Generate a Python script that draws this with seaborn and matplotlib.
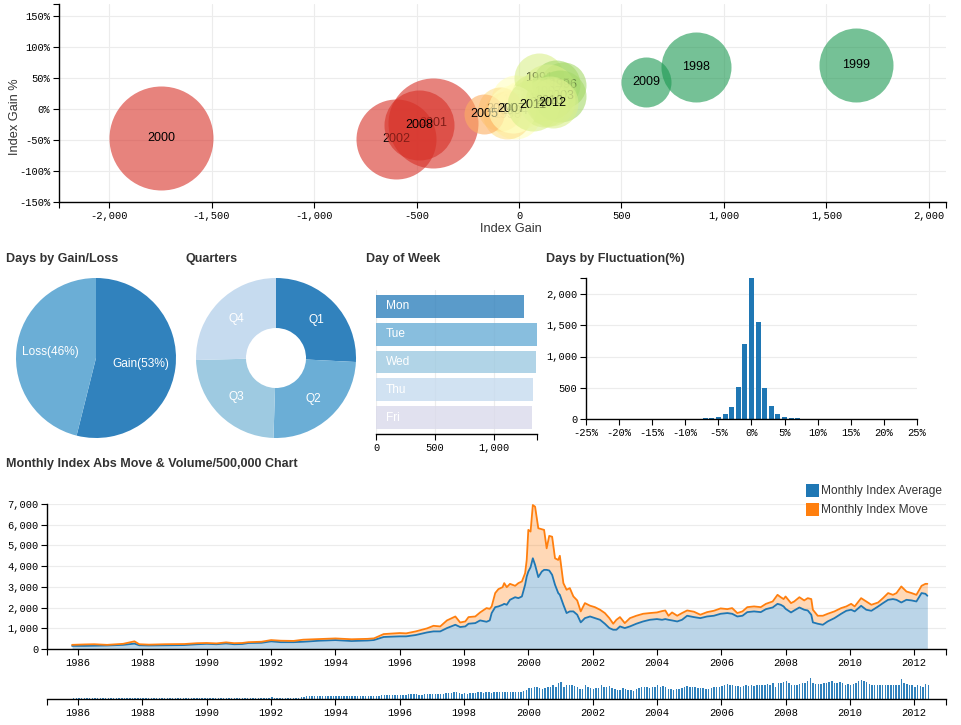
import numpy as np
import pandas as pd
import seaborn as sns
import matplotlib.pyplot as plt
from matplotlib.patches import Rectangle
from matplotlib.ticker import FuncFormatter

# yearly bubbles: absolute gain, gain %, fluctuation (bubble size)
years = list(range(1985, 2013))
year_gain = [-15, 20, -20, 45, 70, -60, 98, 90, 110, -25, 180, 216, 140, 863, 1644,
             -1746, -418, -600, 200, -93, -170, 120, -36, -488, 620, 150, 68, 164]
year_gain_pct = [15, 8, -6, 14, 20, -10, 50, 15, 16, -3, 40, 39, 28, 68, 71,
                 -47, -22, -48, 21, 0, -8, 10, 0, -26, 43, 12, 6, 10]
year_fluct = [50, 48, 52, 44, 44, 48, 50, 44, 44, 44, 48, 46, 56, 70, 74,
              104, 90, 80, 52, 44, 40, 48, 48, 70, 50, 50, 52, 50]

# pies
gain_loss = ['Gain', 'Loss']
gain_loss_days = [3646, 3118]
quarters = ['Q1', 'Q2', 'Q3', 'Q4']
quarter_days = [1745, 1671, 1630, 1718]

# row chart
weekdays = ['Mon', 'Tue', 'Wed', 'Thu', 'Fri']
weekday_days = [1263, 1370, 1365, 1339, 1330]

# fluctuation histogram
fluct_pct = [-7, -6, -5, -4, -3, -2, -1, 0, 1, 2, 3, 4, 5, 6, 7]
fluct_days = [16, 21, 37, 85, 192, 512, 1200, 2251, 1552, 496, 213, 80, 32, 16, 16]

# monthly index average / move
month_pos = [1985.81, 1986.2, 1986.5, 1986.9, 1987.4, 1987.75, 1987.9, 1988.2, 1988.7, 1989.3,
             1989.7, 1990.0, 1990.3, 1990.6, 1990.85, 1991.1, 1991.3, 1991.7, 1992.0, 1992.3,
             1992.7, 1993.0, 1993.5, 1994.0, 1994.5, 1995.0, 1995.2, 1995.5, 1996.0, 1996.2,
             1996.5, 1996.85, 1997.05, 1997.26, 1997.47, 1997.73, 1997.88, 1998.04, 1998.14, 1998.35,
             1998.5, 1998.7, 1998.8, 1998.86, 1998.97, 1999.07, 1999.2, 1999.25, 1999.33, 1999.43,
             1999.59, 1999.69, 1999.8, 1999.9, 1999.95, 2000.0, 2000.07, 2000.14, 2000.21, 2000.31,
             2000.42, 2000.49, 2000.57, 2000.65, 2000.74, 2000.83, 2000.93, 2000.98, 2001.09, 2001.19,
             2001.29, 2001.4, 2001.52, 2001.63, 2001.76, 2001.92, 2002.07, 2002.23, 2002.38, 2002.52,
             2002.64, 2002.74, 2002.85, 2003.0, 2003.16, 2003.36, 2003.57, 2003.78, 2004.0, 2004.16,
             2004.26, 2004.36, 2004.47, 2004.63, 2004.78, 2004.94, 2005.15, 2005.35, 2005.56, 2005.77,
             2005.98, 2006.19, 2006.34, 2006.5, 2006.66, 2006.81, 2007.02, 2007.23, 2007.39, 2007.6,
             2007.75, 2007.85, 2007.94, 2008.0, 2008.17, 2008.27, 2008.43, 2008.58, 2008.69, 2008.8,
             2008.85, 2009.0, 2009.16, 2009.31, 2009.52, 2009.73, 2009.89, 2010.04, 2010.15, 2010.35,
             2010.51, 2010.67, 2010.88, 2011.03, 2011.19, 2011.34, 2011.45, 2011.6, 2011.76, 2011.92,
             2012.07, 2012.23, 2012.35, 2012.41]
index_avg = [150, 150, 160, 170, 200, 260, 180, 170, 180, 190,
             230, 250, 230, 270, 230, 240, 290, 300, 370, 330,
             330, 350, 400, 430, 385, 410, 433, 580, 610, 610,
             675, 800, 850, 850, 1010, 1170, 1060, 1090, 1220, 1250,
             1380, 1315, 1380, 1735, 2020, 2055, 2135, 2180, 2135, 2375,
             2500, 2455, 2535, 3100, 3500, 3740, 3950, 4380, 4060, 3470,
             3740, 3820, 3820, 3790, 3580, 3100, 2700, 2615, 2135, 1735,
             1815, 1815, 1655, 1285, 1490, 1570, 1490, 1410, 1220, 1010,
             930, 930, 1090, 1010, 1090, 1220, 1330, 1410, 1445, 1410,
             1445, 1410, 1380, 1330, 1410, 1605, 1540, 1490, 1570, 1605,
             1700, 1735, 1700, 1570, 1605, 1780, 1815, 1780, 1925, 2005,
             2180, 2135, 2055, 1940, 1765, 1860, 2005, 1895, 1860, 1655,
             1285, 1220, 1170, 1330, 1490, 1700, 1845, 1895, 1815, 2085,
             1895, 1845, 2055, 2215, 2375, 2410, 2375, 2245, 2375, 2345,
             2295, 2700, 2665, 2570]
index_move = [50, 70, 70, 30, 50, 110, 50, 40, 50, 50,
              50, 40, 40, 50, 50, 50, 40, 50, 60, 70,
              60, 100, 80, 80, 85, 80, 80, 140, 160, 145,
              175, 195, 270, 240, 370, 400, 220, 240, 320, 320,
              385, 660, 560, 320, 680, 835, 850, 1000, 850, 770,
              550, 725, 725, 560, 800, 2010, 1720, 2570, 2810, 2360,
              2040, 1930, 1040, 1670, 1840, 1280, 1600, 1885, 1045, 1125,
              1125, 725, 690, 530, 725, 520, 530, 485, 515, 480,
              290, 480, 450, 240, 400, 385, 370, 325, 320, 420,
              415, 195, 385, 275, 325, 255, 260, 165, 210, 240,
              260, 190, 275, 165, 210, 240, 240, 240, 255, 290,
              435, 365, 355, 595, 450, 435, 495, 450, 595, 755,
              610, 385, 435, 370, 325, 275, 210, 285, 240, 370,
              400, 290, 190, 240, 325, 205, 325, 775, 400, 355,
              320, 350, 480, 575]

# monthly volume / 500,000, Nov 1985 .. Jun 2012
volume = [
    3, 3,
    3, 3, 3, 3, 3, 3, 3, 3, 3, 3, 3, 3,
    3, 3, 3, 3, 3, 3, 3, 3, 3, 4, 3, 3,
    3, 3, 3, 3, 3, 3, 3, 3, 3, 3, 3, 3,
    3, 3, 3, 3, 3, 3, 3, 3, 3, 3, 3, 3,
    3, 3, 3, 3, 3, 3, 3, 3, 3, 3, 3, 3,
    3, 3, 3, 3, 3, 3, 3, 3, 3, 3, 3, 4,
    6, 4, 4, 4, 4, 4, 4, 4, 4, 4, 4, 5,
    7, 8, 8, 8, 8, 8, 8, 8, 8, 8, 8, 8,
    8, 8, 8, 8, 8, 8, 8, 8, 8, 8, 8, 8,
    8, 8, 8, 8, 10, 11, 11, 11, 11, 11, 11, 11,
    12, 11, 13, 14, 16, 14, 14, 13, 13, 14, 15, 15,
    16, 14, 15, 15, 15, 17, 17, 19, 20, 22, 18, 16,
    17, 16, 19, 19, 18, 20, 21, 18, 20, 22, 19, 20,
    20, 21, 21, 22, 22, 20, 20, 21, 22, 22, 25, 28,
    32, 33, 34, 35, 32, 30, 32, 34, 35, 42, 36, 48,
    50, 36, 42, 42, 40, 38, 34, 30, 30, 40, 36, 32,
    30, 33, 32, 42, 36, 34, 38, 33, 30, 28, 26, 33,
    30, 26, 28, 25, 30, 32, 34, 36, 35, 32, 36, 34,
    40, 35, 38, 34, 30, 30, 28, 30, 30, 32, 36, 38,
    35, 34, 36, 33, 32, 33, 31, 30, 32, 34, 34, 36,
    38, 40, 44, 40, 42, 38, 38, 36, 38, 40, 38, 40,
    38, 40, 42, 40, 40, 44, 42, 48, 36, 46, 48, 50,
    52, 46, 42, 42, 42, 44, 46, 48, 52, 61, 46, 44,
    45, 44, 46, 48, 50, 52, 48, 46, 50, 46, 42, 44,
    40, 44, 48, 52, 56, 52, 50, 44, 42, 42, 40, 40,
    40, 42, 40, 42, 40, 42, 40, 58, 46, 44, 42, 40,
    36, 40, 38, 36, 44, 40,
]

RDYLGN = ['#d73027', '#f46d43', '#fdae61', '#fee08b', '#ffffbf',
          '#d9ef8b', '#a6d96a', '#66bd63', '#1a9850']
BLUES = ['#3182bd', '#6baed6', '#9ecae1', '#c6dbef', '#dadaeb']
MONO = ['Liberation Mono', 'DejaVu Sans Mono']
GRID = '#ececec'

sns.set_theme(style='white')
plt.rcParams['font.family'] = ['Liberation Sans', 'DejaVu Sans']

W, H = 962, 725
fig = plt.figure(figsize=(W / 100, H / 100), dpi=100)


def px_axes(l, t, r, b):
    return fig.add_axes([l / W, 1 - b / H, (r - l) / W, (b - t) / H])


def d3_axis(ax, left=True):
    for s in ['top', 'right']:
        ax.spines[s].set_visible(False)
    ax.spines['left'].set_visible(left)
    for s in ['left', 'bottom']:
        ax.spines[s].set_color('black')
        ax.spines[s].set_linewidth(1)
    ax.tick_params(which='both', direction='out', length=4.3, width=0.8, color='black',
                   pad=2, labelsize=7.5, labelcolor='black', labelfontfamily=MONO,
                   left=left, bottom=True)
    ax.set_xlabel('')
    ax.set_ylabel('')


def end_ticks(ax, axis='x'):
    lo, hi = (ax.get_xlim() if axis == 'x' else ax.get_ylim())
    if axis == 'x':
        ax.set_xticks([lo, hi], minor=True)
    else:
        ax.set_yticks([lo, hi], minor=True)


comma = FuncFormatter(lambda v, p: f'{v:,.0f}')
pct = FuncFormatter(lambda v, p: f'{v:.0f}%')


def title(x, y, s):
    fig.text(x / W, 1 - y / H, s, va='center', ha='left', fontsize=9,
             fontweight='bold', color='#333333')


# ---- bubble chart
ax = px_axes(59, 4, 946, 202)
d3_axis(ax)
ax.set_xlim(-2244, 2083)
ax.set_ylim(-150, 169)
ax.set_xticks(np.arange(-2000, 2001, 500))
ax.set_yticks(np.arange(-150, 151, 50))
ax.xaxis.set_major_formatter(comma)
ax.yaxis.set_major_formatter(pct)
end_ticks(ax, 'x')
end_ticks(ax, 'y')
ax.grid(True, color=GRID, lw=0.8)
ax.set_axisbelow(True)
bins = np.clip(((np.array(year_gain) + 500) / 1000 * 9).astype(int), 0, 8)
for i, (yr, g, p, f) in enumerate(zip(years, year_gain, year_gain_pct, year_fluct)):
    r = f / 2
    ax.scatter([g], [p], s=(1.44 * r) ** 2, color=RDYLGN[bins[i]], alpha=0.6,
               linewidths=0, zorder=3 + 2 * i)
    ax.text(g, p, str(yr), ha='center', va='center', fontsize=9, color='black',
            zorder=4 + 2 * i)
ax.set_xlabel('Index Gain', fontsize=9.2, color='#333333')
ax.set_ylabel('Index Gain %', fontsize=9.2, color='#333333')
ax.xaxis.set_label_coords(0.51, -0.105)
ax.yaxis.set_label_coords(-0.043, 0.43)

# ---- gain / loss pie
title(6, 259, 'Days by Gain/Loss')
ax = px_axes(16, 278, 176, 438)
total = sum(gain_loss_days)
wedges, _ = ax.pie(gain_loss_days, colors=BLUES[:2], startangle=90, counterclock=False,
                   wedgeprops=dict(linewidth=0))
for w, name, v in zip(wedges, gain_loss, gain_loss_days):
    a = np.deg2rad((w.theta1 + w.theta2) / 2)
    ax.text(0.57 * np.cos(a), 0.57 * np.sin(a), f'{name}({int(v / total * 100)}%)',
            ha='center', va='center', color='white', fontsize=8.6)
ax.set_xlim(-1, 1)
ax.set_ylim(-1, 1)

# ---- quarters donut
title(186, 259, 'Quarters')
ax = px_axes(196, 278, 356, 438)
wedges, _ = ax.pie(quarter_days, colors=BLUES[:4], startangle=90, counterclock=False,
                   wedgeprops=dict(width=50 / 80, linewidth=0))
for w, name in zip(wedges, quarters):
    a = np.deg2rad((w.theta1 + w.theta2) / 2)
    ax.text(0.69 * np.cos(a), 0.69 * np.sin(a), name, ha='center', va='center',
            color='white', fontsize=8.6)
ax.set_xlim(-1, 1)
ax.set_ylim(-1, 1)

# ---- day of week row chart
title(366, 259, 'Day of Week')
ax = px_axes(376, 290, 537, 434)
sns.barplot(x=weekday_days, y=weekdays, hue=weekdays, palette=BLUES, legend=False,
            orient='h', width=0.82, alpha=0.8, saturation=1, linewidth=0, ax=ax)
d3_axis(ax, left=False)
ax.set_xlim(0, max(weekday_days))
ax.set_ylim(4.59, -0.59)
ax.set_xticks([0, 500, 1000])
ax.xaxis.set_major_formatter(comma)
end_ticks(ax, 'x')
ax.set_yticks([])
ax.grid(True, axis='x', color=GRID, lw=0.8)
ax.set_axisbelow(True)
for i, d in enumerate(weekdays):
    ax.annotate(d, (0, i), xytext=(7.2, 0), textcoords='offset points', ha='left',
                va='center', color='white', fontsize=8.6)

# ---- fluctuation histogram
title(546, 259, 'Days by Fluctuation(%)')
ax = px_axes(586, 278, 917, 419)
sns.histplot(x=fluct_pct, weights=fluct_days, discrete=True, shrink=0.76,
             color='#1f77b4', alpha=1, linewidth=0, ax=ax)
d3_axis(ax)
ax.set_xlim(-25, 25)
ax.set_ylim(0, 2256)
ax.set_xticks(np.arange(-25, 26, 5))
ax.set_yticks(np.arange(0, 2001, 500))
ax.xaxis.set_major_formatter(pct)
ax.yaxis.set_major_formatter(comma)
end_ticks(ax, 'x')
end_ticks(ax, 'y')
ax.grid(True, axis='y', color=GRID, lw=0.8)
ax.set_axisbelow(True)

# ---- monthly index area chart
title(6, 464, 'Monthly Index Abs Move & Volume/500,000 Chart')
ax = px_axes(47, 504, 946, 649)
avg = np.array(index_avg)
top = avg + np.array(index_move)
ax.fill_between(month_pos, 0, avg, color='#1f77b4', alpha=0.3, lw=0)
ax.fill_between(month_pos, avg, top, color='#ff7f0e', alpha=0.3, lw=0)
sns.lineplot(x=month_pos, y=avg, color='#1f77b4', lw=1.3, sort=False, estimator=None, ax=ax)
sns.lineplot(x=month_pos, y=top, color='#ff7f0e', lw=1.3, sort=False, estimator=None, ax=ax)
d3_axis(ax)
ax.set_xlim(1985.03, 2012.99)
ax.set_ylim(0, 7000)
ax.set_xticks(np.arange(1986, 2013, 2))
ax.set_yticks(np.arange(0, 7001, 1000))
ax.xaxis.set_major_formatter(FuncFormatter(lambda v, p: f'{v:.0f}'))
ax.yaxis.set_major_formatter(comma)
end_ticks(ax, 'x')
ax.grid(True, axis='y', color=GRID, lw=0.8)
ax.set_axisbelow(True)

for y0, c, s in [(484, '#1f77b4', 'Monthly Index Average'), (503, '#ff7f0e', 'Monthly Index Move')]:
    fig.add_artist(Rectangle((806 / W, 1 - (y0 + 13) / H), 13 / W, 13 / H,
                             transform=fig.transFigure, color=c, lw=0))
    fig.text(821 / W, 1 - (y0 + 7) / H, s, va='center', ha='left', fontsize=8.6,
             color='#333333')

# ---- volume range chart
ax = px_axes(47, 678, 946, 699)
months = pd.date_range('1985-11-01', periods=len(volume), freq='MS')
vol_pos = months.year + (months.month - 1) / 12
ax.bar(vol_pos, volume, width=0.045, color='#3182bd', linewidth=0, align='edge')
d3_axis(ax, left=False)
ax.set_xlim(1985.03, 2012.99)
ax.set_ylim(0, 62)
ax.set_xticks(np.arange(1986, 2013, 2))
ax.xaxis.set_major_formatter(FuncFormatter(lambda v, p: f'{v:.0f}'))
end_ticks(ax, 'x')
ax.set_yticks([])

fig.savefig('out.png', dpi=100)
